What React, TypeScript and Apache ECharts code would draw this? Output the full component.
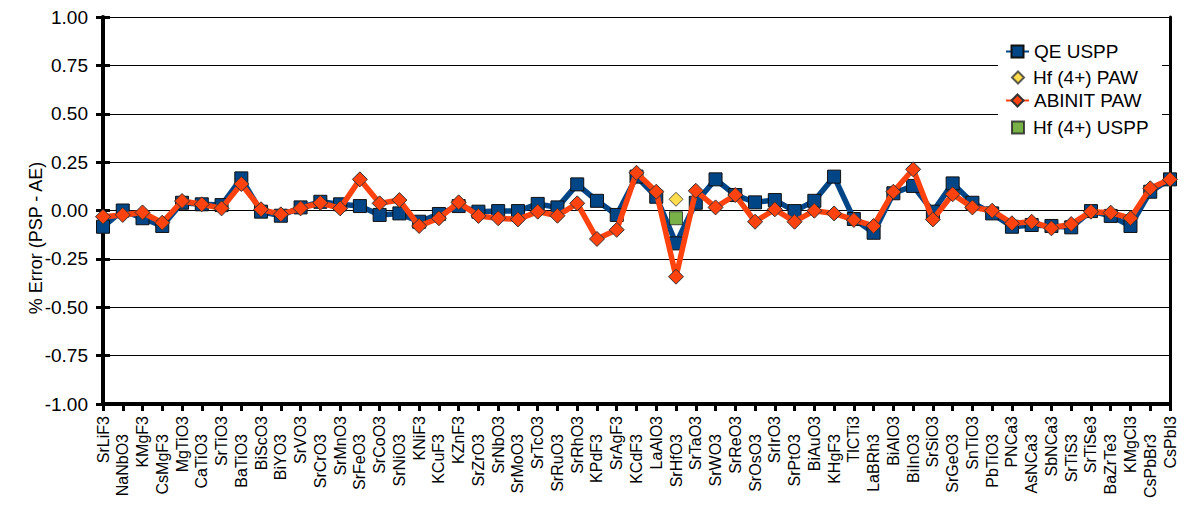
import React, { useEffect, useRef } from "react";
import * as echarts from "echarts";

const categories = [
  "SrLiF3", "NaNbO3", "KMgF3", "CsMgF3", "MgTiO3", "CaTiO3", "SrTiO3", "BaTiO3", "BiScO3", "BiYO3",
  "SrVO3", "SrCrO3", "SrMnO3", "SrFeO3", "SrCoO3", "SrNiO3", "KNiF3", "KCuF3", "KZnF3", "SrZrO3",
  "SrNbO3", "SrMoO3", "SrTcO3", "SrRuO3", "SrRhO3", "KPdF3", "SrAgF3", "KCdF3", "LaAlO3", "SrHfO3",
  "SrTaO3", "SrWO3", "SrReO3", "SrOsO3", "SrIrO3", "SrPtO3", "BiAuO3", "KHgF3", "TlCTi3", "LaBRh3",
  "BiAlO3", "BiInO3", "SrSiO3", "SrGeO3", "SnTiO3", "PbTiO3", "PNCa3", "AsNCa3", "SbNCa3", "SrTiS3",
  "SrTiSe3", "BaZrTe3", "KMgCl3", "CsPbBr3", "CsPbI3",
];

const qeUspp = [
  -0.084, 0.0, -0.04, -0.08, 0.04, 0.032, 0.028, 0.166, -0.006, -0.027,
  0.016, 0.045, 0.032, 0.023, -0.023, -0.015, -0.058, -0.018, 0.023, -0.006,
  -0.003, -0.003, 0.034, 0.016, 0.135, 0.05, -0.023, 0.175, 0.071, -0.17,
  0.04, 0.161, 0.08, 0.042, 0.054, -0.003, 0.05, 0.175, -0.044, -0.115,
  0.089, 0.127, -0.006, 0.14, 0.04, -0.015, -0.084, -0.075, -0.08, -0.087,
  -0.003, -0.028, -0.08, 0.097, 0.161,
];

const abinitPaw = [
  -0.032, -0.023, -0.01, -0.063, 0.049, 0.032, 0.011, 0.137, 0.006, -0.02,
  0.011, 0.04, 0.011, 0.161, 0.037, 0.054, -0.08, -0.04, 0.042, -0.028,
  -0.04, -0.046, -0.006, -0.027, 0.037, -0.147, -0.1, 0.195, 0.097, -0.342,
  0.102, 0.016, 0.08, -0.058, 0.006, -0.058, -0.001, -0.015, -0.049, -0.08,
  0.097, 0.213, -0.046, 0.084, 0.016, -0.001, -0.066, -0.058, -0.092, -0.07,
  -0.006, -0.011, -0.04, 0.115, 0.161,
];

const hfCategory = "SrHfO3";
const hfPaw = [[hfCategory, 0.058]];
const hfUspp = [[hfCategory, -0.04]];

const seriesNames = ["QE USPP", "Hf (4+) PAW", "ABINIT PAW", "Hf (4+) USPP"];
const yTitle = "% Error (PSP - AE)";

const FONT = "Liberation Sans, Arial, sans-serif";

export default function App() {
  const ref = useRef<HTMLDivElement>(null);
  useEffect(() => {
    document.body.style.margin = "0";
    const chart = echarts.init(ref.current!, null, { renderer: "svg" });
    const yBase = { type: "value", min: -1, max: 1, interval: 0.25 };
    const legendText = { fontSize: 19, fontFamily: FONT, color: "#000" };
    const lineLegend = (name: string, top: number) => ({
      orient: "vertical",
      left: 1005,
      top,
      padding: 0,
      itemWidth: 23,
      itemHeight: 15,
      data: [name],
      textStyle: legendText,
    });
    const dotLegend = (name: string, top: number) => ({
      orient: "vertical",
      left: 1011,
      top,
      padding: 0,
      itemWidth: 12,
      itemHeight: 12,
      data: [name],
      textStyle: { ...legendText, padding: [0, 0, 0, 4] },
    });
    chart.setOption({
      animation: false,
      backgroundColor: "#fff",
      grid: { left: 103, right: 24, top: 17, bottom: 110 },
      xAxis: {
        type: "category",
        data: categories,
        boundaryGap: false,
        axisLine: { show: true, onZero: false, lineStyle: { color: "#000", width: 4 } },
        axisTick: { show: true, interval: 0, length: 7, lineStyle: { color: "#000", width: 3 } },
        axisLabel: {
          interval: 0,
          rotate: 90,
          margin: 12,
          fontSize: 16,
          fontFamily: FONT,
          color: "#000",
          formatter: (v: string, i: number) => (i % 2 === 1 ? `{lo|${v}}` : `{hi|${v}}`),
          rich: {
            hi: { fontSize: 16, fontFamily: FONT, color: "#000" },
            lo: { fontSize: 16, fontFamily: FONT, color: "#000", padding: [0, 18, 0, 0] },
          },
        },
        splitLine: { show: false },
      },
      yAxis: [
        {
          ...yBase,
          position: "left",
          axisLine: { show: true, lineStyle: { color: "#000", width: 4 } },
          axisTick: { show: true, length: 7, lineStyle: { color: "#000", width: 3 } },
          axisLabel: {
            margin: 15,
            fontSize: 19,
            fontFamily: FONT,
            color: "#000",
            formatter: (v: number) => v.toFixed(2),
          },
          splitLine: { show: true, lineStyle: { color: "#000", width: 1 } },
        },
        {
          ...yBase,
          position: "left",
          axisLine: { show: false },
          axisTick: { show: true, inside: true, length: 7, lineStyle: { color: "#000", width: 3 } },
          axisLabel: { show: false },
          splitLine: { show: false },
        },
        {
          ...yBase,
          position: "right",
          axisLine: { show: true, lineStyle: { color: "#000", width: 3 } },
          axisTick: { show: false },
          axisLabel: { show: false },
          splitLine: { show: false },
        },
      ],
      legend: [
        lineLegend(seriesNames[0], 42),
        dotLegend(seriesNames[1], 68),
        lineLegend(seriesNames[2], 91),
        dotLegend(seriesNames[3], 118),
      ],
      graphic: [
        {
          type: "rect",
          z: 1,
          shape: { x: 998, y: 35, width: 164, height: 115 },
          style: { fill: "#fff" },
          silent: true,
        },
        {
          type: "text",
          x: 36,
          y: 238,
          rotation: Math.PI / 2,
          style: {
            text: yTitle,
            fontSize: 18,
            fontFamily: FONT,
            fill: "#000",
            align: "center",
            verticalAlign: "middle",
          },
        },
      ],
      series: [
        {
          name: seriesNames[0],
          type: "line",
          data: qeUspp,
          symbol: "rect",
          symbolSize: 13,
          lineStyle: { color: "#004586", width: 5.5 },
          itemStyle: { color: "#004586", borderColor: "#111", borderWidth: 1 },
          z: 2,
        },
        {
          name: seriesNames[1],
          type: "scatter",
          data: hfPaw,
          symbol: "diamond",
          symbolSize: 14,
          itemStyle: { color: "#ffd320", borderColor: "#333", borderWidth: 1 },
          z: 4,
        },
        {
          name: seriesNames[2],
          type: "line",
          data: abinitPaw,
          symbol: "diamond",
          symbolSize: 15,
          lineStyle: { color: "#ff420e", width: 5.5 },
          itemStyle: { color: "#ff420e", borderColor: "#333", borderWidth: 1 },
          z: 3,
        },
        {
          name: seriesNames[3],
          type: "scatter",
          data: hfUspp,
          symbol: "rect",
          symbolSize: 13,
          itemStyle: { color: "#579d1c", borderColor: "#222", borderWidth: 1 },
          z: 4,
        },
      ],
    });
    return () => chart.dispose();
  }, []);
  return <div ref={ref} style={{ width: 1194, height: 514 }} />;
}
